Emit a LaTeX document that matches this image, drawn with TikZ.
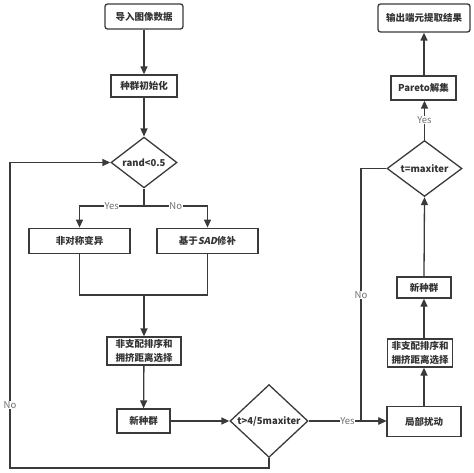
\documentclass[tikz,border=0pt]{standalone}
\usepackage{fontspec}
\usetikzlibrary{shapes.geometric,arrows.meta}
\newfontfamily\cjk{Noto Sans CJK SC}
\newfontfamily\cjksl{Noto Sans CJK SC}[FakeSlant=0.2]
\definecolor{ln}{HTML}{3A3A3A}
\definecolor{tx}{HTML}{333333}
\definecolor{lb}{HTML}{707070}
\tikzset{
  box/.style={draw=ln, line width=1.3pt, fill=white, inner sep=1pt, text=tx,
    font=\cjk\bfseries\fontsize{9.5}{13.5}\selectfont, align=center},
  rbox/.style={box, rounded corners=2.5pt},
  dia/.style={draw=ln, line width=1.3pt, fill=white, diamond, inner sep=0pt, text=tx,
    font=\cjk\bfseries\fontsize{9.5}{12}\selectfont},
  conn/.style={draw=ln, line width=1.3pt},
  arr/.style={conn, -{Triangle[length=8pt,width=7pt]}},
  lab/.style={fill=white, inner sep=0.5pt, text=lb, font=\cjk\fontsize{9.5}{11}\selectfont},
}
\begin{document}
\begin{tikzpicture}[x=1pt,y=-1pt]
\useasboundingbox (0,0) rectangle (474,473);
% left column
\node[rbox, minimum width=78pt, minimum height=25pt] (b1) at (144,16.5) {导入图像数据};
\node[box, minimum width=66pt, minimum height=22pt] (b2) at (144,86) {种群初始化};
\node[dia, minimum width=66pt, minimum height=40pt] (d1) at (144,162.5) {rand<0.5};
\node[box, minimum width=101pt, minimum height=25.5pt] (b3) at (79.5,241) {非对称变异};
\node[box, minimum width=101pt, minimum height=25.5pt] (b4) at (207.5,241) {基于{\cjksl\bfseries SAD}修补};
\node[box, minimum width=74pt, minimum height=28pt] (b5) at (144,351) {非支配排序和\\拥挤距离选择};
\node[box, minimum width=53pt, minimum height=24pt] (b6) at (143.5,421) {新种群};
\node[dia, minimum width=78pt, minimum height=50pt] (d2) at (269,421) {t>4/5maxiter};
% right column
\node[box, minimum width=74pt, minimum height=30pt] (b7) at (424,421.5) {局部扰动};
\node[box, minimum width=65pt, minimum height=28pt] (b8) at (420,353) {非支配排序和\\拥挤距离选择};
\node[box, minimum width=54pt, minimum height=21pt] (b9) at (424,287.5) {新种群};
\node[dia, minimum width=75pt, minimum height=49pt] (d3) at (424.5,168.5) {t=maxiter};
\node[box, minimum width=65pt, minimum height=24pt] (b10) at (423.5,88) {Pareto解集};
\node[rbox, minimum width=92pt, minimum height=28pt] (b11) at (424,18) {输出端元提取结果};
% junction coordinates
\coordinate (j1) at (144,206);
\coordinate (j2) at (144,295);
\coordinate (c1) at (10,468);
\coordinate (c2) at (361,421);
% connectors
\draw[arr] (b1) -- (b2);
\draw[arr] (b2) -- (d1);
\draw[conn] (d1.south) -- (j1);
\draw[arr] (j1) -- node[lab]{Yes} (j1 -| b3.north) -- (b3.north);
\draw[arr] (j1) -- node[lab]{No} (j1 -| b4.north) -- (b4.north);
\draw[conn] (b3.south) |- (j2);
\draw[conn] (b4.south) |- (j2);
\draw[arr] (j2) -- (b5.north);
\draw[arr] (b5) -- (b6);
\draw[arr] (b6) -- (d2);
\draw[arr] (d2.south) |- (c1) -- node[lab,pos=0.205]{No} (c1 |- d1.west) -- (d1.west);
\draw[arr] (d2.east) -- node[lab]{Yes} (c2 -| b7.west);
\draw[arr] (d3.west) -| node[lab,pos=0.75]{No} (c2) -- (c2 -| b7.west);
\draw[arr] (b7.north) -- (b7.north |- b8.south);
\draw[arr] (b8.north -| b9.south) -- (b9.south);
\draw[arr] (b9.north) -- (d3.south);
\draw[arr] (d3.north) -- node[lab]{Yes} (d3.north |- b10.south);
\draw[arr] (b10.north -| b11.south) -- (b11.south);
\end{tikzpicture}
\end{document}
